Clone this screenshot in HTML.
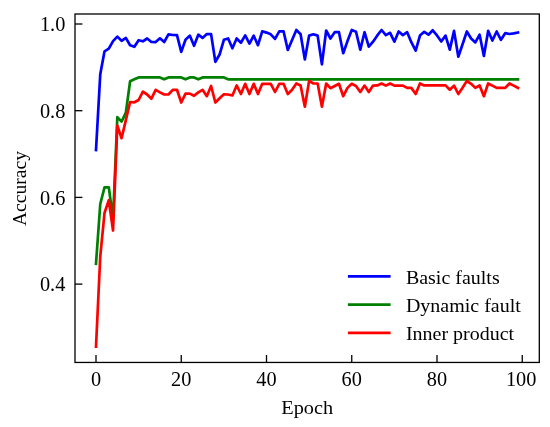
<!DOCTYPE html>
<html><head><meta charset="utf-8"><title>Accuracy</title>
<style>
html,body{margin:0;padding:0;background:#fff;}
svg{display:block;}
text{font-family:"Liberation Serif","Times New Roman",serif;font-size:20px;fill:#000;}
</style></head><body>
<svg width="550" height="427" viewBox="0 0 550 427">
<rect x="0" y="0" width="550" height="427" fill="#fff"/>

<g fill="none" stroke-linejoin="round" stroke-linecap="square" stroke-width="2.7">
<polyline stroke="#0000ff" points="96.00,150.00 100.26,74.30 104.53,51.30 108.79,48.70 113.05,41.10 117.31,36.60 121.58,40.80 125.84,37.90 130.10,45.20 134.36,46.80 138.62,40.20 142.89,41.30 147.15,38.50 151.41,42.00 155.68,42.10 159.94,38.30 164.20,42.00 168.46,34.30 172.73,35.00 176.99,35.10 181.25,51.90 185.51,39.80 189.78,35.60 194.04,45.80 198.30,34.70 202.56,37.90 206.82,34.10 211.09,34.10 215.35,61.80 219.61,54.50 223.88,39.80 228.14,38.50 232.40,48.30 236.66,38.50 240.93,42.70 245.19,35.40 249.45,43.60 253.71,35.70 257.98,45.20 262.24,31.30 266.50,32.60 270.76,34.30 275.02,38.90 279.29,31.30 283.55,31.30 287.81,50.00 292.08,40.00 296.34,30.00 300.60,34.30 304.86,59.50 309.12,35.60 313.39,34.30 317.65,35.60 321.91,64.40 326.18,30.50 330.44,38.50 334.70,32.20 338.96,32.20 343.23,53.20 347.49,41.10 351.75,30.00 356.01,31.80 360.28,49.60 364.54,32.20 368.80,46.60 373.06,41.70 377.32,35.40 381.59,30.00 385.85,35.10 390.11,32.80 394.38,41.70 398.64,31.50 402.90,35.10 407.16,32.20 411.43,42.40 415.69,50.60 419.95,35.60 424.21,31.80 428.48,34.70 432.74,30.30 437.00,35.40 441.26,41.50 445.53,35.60 449.79,49.60 454.05,30.90 458.31,56.70 462.57,44.30 466.84,31.50 471.10,38.50 475.36,42.40 479.62,34.70 483.89,56.00 488.15,30.90 492.41,40.50 496.68,31.50 500.94,39.80 505.20,33.20 509.46,34.00 513.73,33.30 517.99,32.50"/>
<polyline stroke="#008000" points="96.00,263.70 100.26,204.00 104.53,187.30 108.79,187.30 113.05,219.00 117.31,117.20 121.58,121.60 125.84,112.70 130.10,81.30 134.36,79.30 138.62,77.40 142.89,77.40 147.15,77.40 151.41,77.40 155.68,77.40 159.94,77.40 164.20,79.30 168.46,77.40 172.73,77.40 176.99,77.40 181.25,77.40 185.51,79.30 189.78,77.40 194.04,77.40 198.30,79.30 202.56,77.40 206.82,77.40 211.09,77.40 215.35,77.40 219.61,77.40 223.88,77.40 228.14,79.30 232.40,79.30 236.66,79.30 240.93,79.30 245.19,79.30 249.45,79.30 253.71,79.30 257.98,79.30 262.24,79.30 266.50,79.30 270.76,79.30 275.02,79.30 279.29,79.30 283.55,79.30 287.81,79.30 292.08,79.30 296.34,79.30 300.60,79.30 304.86,79.30 309.12,79.30 313.39,79.30 317.65,79.30 321.91,79.30 326.18,79.30 330.44,79.30 334.70,79.30 338.96,79.30 343.23,79.30 347.49,79.30 351.75,79.30 356.01,79.30 360.28,79.30 364.54,79.30 368.80,79.30 373.06,79.30 377.32,79.30 381.59,79.30 385.85,79.30 390.11,79.30 394.38,79.30 398.64,79.30 402.90,79.30 407.16,79.30 411.43,79.30 415.69,79.30 419.95,79.30 424.21,79.30 428.48,79.30 432.74,79.30 437.00,79.30 441.26,79.30 445.53,79.30 449.79,79.30 454.05,79.30 458.31,79.30 462.57,79.30 466.84,79.30 471.10,79.30 475.36,79.30 479.62,79.30 483.89,79.30 488.15,79.30 492.41,79.30 496.68,79.30 500.94,79.30 505.20,79.30 509.46,79.30 513.73,79.30 517.99,79.30"/>
<polyline stroke="#ff0000" points="96.00,346.70 100.26,256.50 104.53,212.90 108.79,200.20 113.05,230.50 117.31,125.50 121.58,138.20 125.84,120.10 130.10,102.00 134.36,102.30 138.62,100.00 142.89,91.70 147.15,94.50 151.41,98.70 155.68,89.80 159.94,92.40 164.20,94.50 168.46,94.50 172.73,89.80 176.99,89.80 181.25,102.50 185.51,93.60 189.78,93.60 194.04,95.80 198.30,92.40 202.56,89.80 206.82,96.20 211.09,86.00 215.35,102.50 219.61,98.30 223.88,94.30 228.14,94.50 232.40,95.50 236.66,85.40 240.93,94.00 245.19,83.80 249.45,94.00 253.71,83.80 257.98,94.00 262.24,83.80 266.50,83.80 270.76,83.80 275.02,92.00 279.29,83.80 283.55,83.80 287.81,94.00 292.08,89.80 296.34,83.50 300.60,85.40 304.86,106.70 309.12,80.90 313.39,83.50 317.65,83.50 321.91,106.70 326.18,83.50 330.44,88.20 334.70,86.00 338.96,83.80 343.23,96.20 347.49,87.90 351.75,83.80 356.01,86.00 360.28,92.00 364.54,85.60 368.80,92.00 373.06,85.60 377.32,85.40 381.59,83.50 385.85,85.60 390.11,83.50 394.38,85.60 398.64,85.60 402.90,85.60 407.16,87.90 411.43,87.90 415.69,94.00 419.95,83.50 424.21,85.40 428.48,85.40 432.74,85.40 437.00,85.40 441.26,85.40 445.53,85.40 449.79,89.80 454.05,85.60 458.31,94.00 462.57,87.70 466.84,80.90 471.10,83.80 475.36,87.90 479.62,85.40 483.89,96.20 488.15,83.50 492.41,85.60 496.68,87.90 500.94,87.90 505.20,87.90 509.46,83.50 513.73,85.60 517.99,87.90"/>
</g>
<rect x="75.0" y="14.0" width="464.29999999999995" height="348.45" fill="none" stroke="#000" stroke-width="1.3"/>
<g stroke="#000" stroke-width="1.3">
<line x1="96.00" y1="362.45" x2="96.00" y2="355.05"/>
<line x1="181.25" y1="362.45" x2="181.25" y2="355.05"/>
<line x1="266.50" y1="362.45" x2="266.50" y2="355.05"/>
<line x1="351.75" y1="362.45" x2="351.75" y2="355.05"/>
<line x1="437.00" y1="362.45" x2="437.00" y2="355.05"/>
<line x1="522.25" y1="362.45" x2="522.25" y2="355.05"/>
<line x1="75.0" y1="284.10" x2="82.4" y2="284.10"/>
<line x1="75.0" y1="197.40" x2="82.4" y2="197.40"/>
<line x1="75.0" y1="110.70" x2="82.4" y2="110.70"/>
<line x1="75.0" y1="24.00" x2="82.4" y2="24.00"/>
</g>
<text transform="translate(96.00,385.80) scale(1.015,1.0)" text-anchor="middle">0</text>
<text transform="translate(181.25,385.80) scale(1.015,1.0)" text-anchor="middle">20</text>
<text transform="translate(266.50,385.80) scale(1.015,1.0)" text-anchor="middle">40</text>
<text transform="translate(351.75,385.80) scale(1.015,1.0)" text-anchor="middle">60</text>
<text transform="translate(437.00,385.80) scale(1.015,1.0)" text-anchor="middle">80</text>
<text transform="translate(521.15,385.80) scale(1.015,1.0)" text-anchor="middle">100</text>
<text transform="translate(65.30,291.25) scale(1.015,1.0)" text-anchor="end">0.4</text>
<text transform="translate(65.30,204.55) scale(1.015,1.0)" text-anchor="end">0.6</text>
<text transform="translate(65.30,117.85) scale(1.015,1.0)" text-anchor="end">0.8</text>
<text transform="translate(65.30,31.15) scale(1.015,1.0)" text-anchor="end">1.0</text>
<text transform="translate(307.20,413.80) scale(1.015,0.94)" text-anchor="middle">Epoch</text>
<text transform="translate(26.00,188.60) rotate(-90) scale(0.98,0.92)" text-anchor="middle">Accuracy</text>
<g fill="none" stroke-width="2.7">
<line x1="347.9" y1="276.35" x2="390.6" y2="276.35" stroke="#0000ff"/>
<line x1="347.9" y1="304.6" x2="390.6" y2="304.6" stroke="#008000"/>
<line x1="347.9" y1="332.9" x2="390.6" y2="332.9" stroke="#ff0000"/>
</g>
<text transform="translate(405.90,283.65) scale(1.0,0.94)" text-anchor="start">Basic faults</text>
<text transform="translate(405.90,311.95) scale(1.0,0.94)" text-anchor="start">Dynamic fault</text>
<text transform="translate(405.90,340.25) scale(1.0,0.94)" text-anchor="start">Inner product</text>
</svg></body></html>
